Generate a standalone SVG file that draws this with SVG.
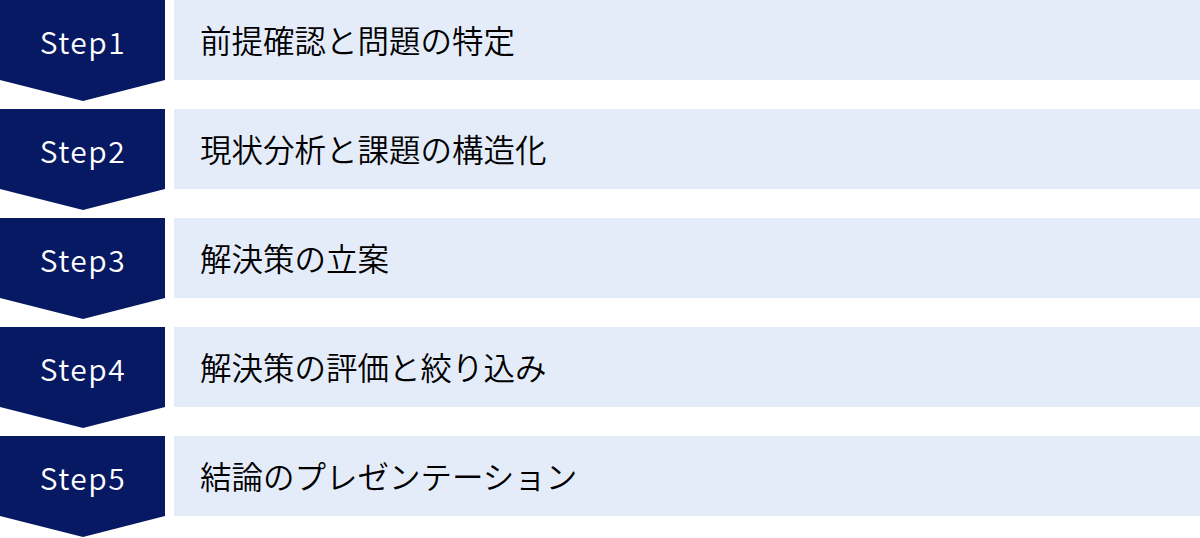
<svg xmlns="http://www.w3.org/2000/svg" width="1200" height="538" viewBox="0 0 1200 538">
<style>
.chev{fill:#061962}
.box{fill:#E5ECF9}
.lbl{font-family:"Noto Sans CJK JP","Noto Sans",sans-serif;font-size:30px;font-weight:350;fill:#FFFFFF;text-anchor:middle;letter-spacing:1.5px}
.txt{font-family:"Noto Sans CJK JP","Noto Sans",sans-serif;font-size:31.5px;font-weight:350;fill:#000000}
</style>
<defs>
<polygon id="chevShape" points="0,0 165,0 165,80 83,101 0,80"/>
</defs>
<g id="step1" transform="translate(0,0)">
<use href="#chevShape" class="chev"/>
<rect class="box" x="174" y="0" width="1026" height="80"/>
<text class="lbl" x="83" y="53.5">Step1</text>
<text class="txt" x="200" y="53">前提確認と問題の特定</text>
</g>
<g id="step2" transform="translate(0,109)">
<use href="#chevShape" class="chev"/>
<rect class="box" x="174" y="0" width="1026" height="80"/>
<text class="lbl" x="83" y="53.5">Step2</text>
<text class="txt" x="200" y="53">現状分析と課題の構造化</text>
</g>
<g id="step3" transform="translate(0,218)">
<use href="#chevShape" class="chev"/>
<rect class="box" x="174" y="0" width="1026" height="80"/>
<text class="lbl" x="83" y="53.5">Step3</text>
<text class="txt" x="200" y="53">解決策の立案</text>
</g>
<g id="step4" transform="translate(0,327)">
<use href="#chevShape" class="chev"/>
<rect class="box" x="174" y="0" width="1026" height="80"/>
<text class="lbl" x="83" y="53.5">Step4</text>
<text class="txt" x="200" y="53">解決策の評価と絞り込み</text>
</g>
<g id="step5" transform="translate(0,436)">
<use href="#chevShape" class="chev"/>
<rect class="box" x="174" y="0" width="1026" height="80"/>
<text class="lbl" x="83" y="53.5">Step5</text>
<text class="txt" x="200" y="53">結論のプレゼンテーション</text>
</g>
<g id="connectors"></g>
</svg>
